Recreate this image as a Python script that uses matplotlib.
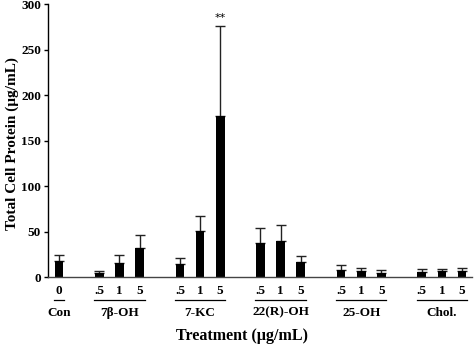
import matplotlib
matplotlib.use("Agg")
import matplotlib.pyplot as plt
import numpy as np

# Treatment groups, doses (µg/mL), mean total cell protein and SD (µg/mL)
groups = ["Con", "7β-OH", "7-KC", "22(R)-OH", "25-OH", "Chol."]
doses = [["0"], [".5", "1", "5"], [".5", "1", "5"], [".5", "1", "5"],
         [".5", "1", "5"], [".5", "1", "5"]]
means = [[17.2], [4.0, 15.4, 32.2], [14.0, 50.2, 176.6], [37.0, 39.6, 16.8],
         [8.0, 6.2, 4.8], [5.9, 6.6, 7.0]]
errors = [[6.8], [3.0, 8.6, 14.3], [6.5, 17.2, 99.2], [17.0, 17.2, 5.9],
          [5.0, 3.3, 2.5], [2.5, 2.4, 2.9]]
significance = {(2, 2): "**"}

plt.rcParams["font.family"] = ["Liberation Serif", "DejaVu Serif"]
plt.rcParams["font.weight"] = "bold"

fig = plt.figure(figsize=(4.74, 3.45), dpi=100)
ax = fig.add_axes([0.101, 0.197, 0.895, 0.791])

# slot layout: each group gets one slot per dose, with an empty slot between groups
positions = []
slot = 0
for g, d in enumerate(doses):
    if g == 0:
        positions.append([0])
        slot = 2
    else:
        positions.append(list(range(slot, slot + len(d))))
        slot += len(d) + 1

bar_w = 0.43
for pos, m, e in zip(positions, means, errors):
    ax.bar(pos, m, width=bar_w, color="black", zorder=2)
    ax.errorbar(pos, m, yerr=[np.zeros(len(e)), e], fmt="none",
                ecolor="#222222", elinewidth=1.0, capsize=3.5, capthick=1.0,
                zorder=1)

for (g, i), txt in significance.items():
    x = positions[g][i]
    top = means[g][i] + errors[g][i]
    ax.text(x, top + 3, txt, ha="center", va="bottom", fontsize=8,
            fontweight="normal", family="DejaVu Sans")

ax.set_xlim(-0.55, 20.5)
ax.set_ylim(0, 300)
ax.set_yticks(np.arange(0, 301, 50))
ax.tick_params(axis="y", direction="out", length=3, width=1, labelsize=9.5, pad=2)
ax.set_xticks([])
for s in ("top", "right"):
    ax.spines[s].set_visible(False)
ax.spines["left"].set_linewidth(1.0)
ax.spines["bottom"].set_linewidth(1.0)
ax.spines["bottom"].set_color("#444444")

trans = ax.get_xaxis_transform()
for g, (pos, d) in enumerate(zip(positions, doses)):
    for x, lab in zip(pos, d):
        ax.text(x, -0.051, lab, transform=trans, ha="center", va="center",
                fontsize=9.5, fontweight="bold")
    x0 = pos[0] - 0.25
    x1 = pos[-1] + 0.25
    ax.plot([x0, x1], [-0.084, -0.084], transform=trans, color="black",
            lw=0.9, clip_on=False)
    ax.text(np.mean(pos), -0.130, groups[g], transform=trans, ha="center",
            va="center", fontsize=9.5, fontweight="bold")

ax.set_ylabel("Total Cell Protein (µg/mL)", fontsize=11, fontweight="bold",
              va="center")
ax.yaxis.set_label_coords(-0.085, 0.49)
fig.text(0.511, 0.026, "Treatment (µg/mL)", ha="center", va="center",
         fontsize=11.5, fontweight="bold")

fig.savefig("out.png", dpi=100)
